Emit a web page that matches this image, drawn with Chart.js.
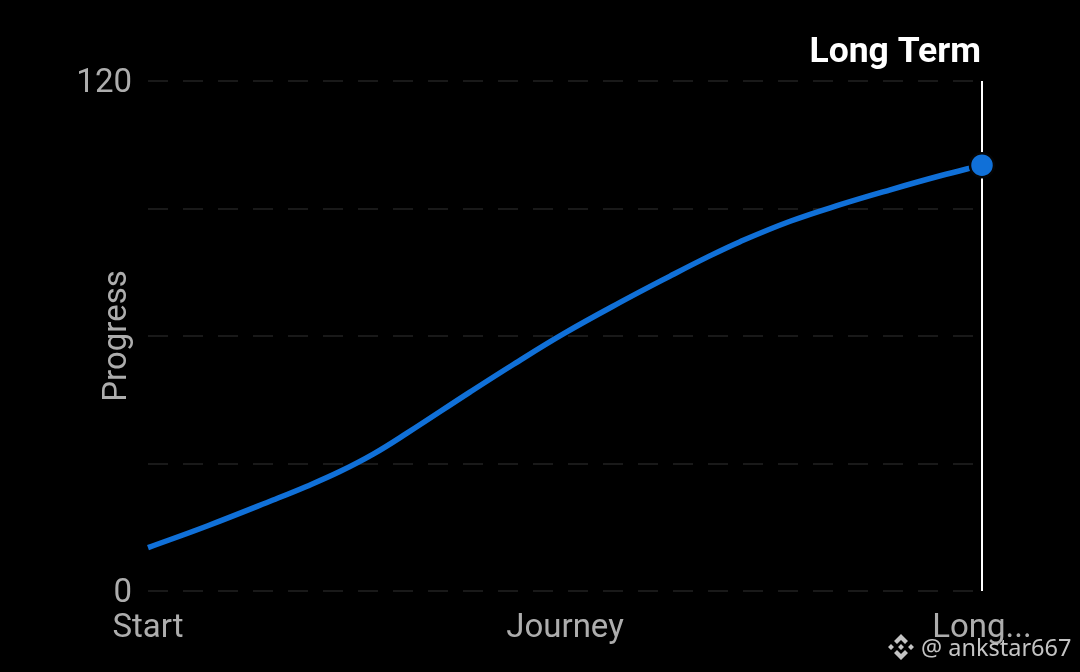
<!DOCTYPE html>
<html>
<head>
<meta charset="utf-8">
<title>Progress</title>
<script src="https://cdn.jsdelivr.net/npm/chart.js@4"></script>
<style>
html, body { margin: 0; background: #000; }
#wrap { position: relative; width: 1080px; height: 672px; overflow: hidden; }
#mark { position: absolute; left: 887px; top: 632px; height: 30px; display: flex; align-items: center; white-space: nowrap; color: #c4c4c4; font: 23.5px "Noto Sans", sans-serif; }
#mark svg { margin-right: 6px; }
</style>
</head>
<body>
<div id="wrap">
  <canvas id="myChart" width="1080" height="672"></canvas>
  <div id="mark">
    <svg width="28" height="28" viewBox="0 0 28 28" fill="#c4c4c4">
      <path d="M14 1l7 7-3 3-4-4-4 4-3-3zM14 27l-7-7 3-3 4 4 4-4 3 3zM1 14l3-3 3 3-3 3zM21 14l3-3 3 3-3 3zM14 11l3 3-3 3-3-3z"/>
    </svg>@ ankstar667
  </div>
</div>
<script>
const xValues = [0, 7.1, 15, 19, 23, 27, 31.1, 38.6, 43.8, 49.8, 56.6, 62.6, 67, 71, 77, 83, 89, 95, 100];
const progress = [10.2, 15.3, 21.4, 24.6, 28.1, 32.2, 37.2, 46.8, 53.3, 60.5, 67.9, 74.1, 78.5, 82.2, 87, 90.9, 94.4, 97.7, 100.2];
const xTicks = [0, 50, 100];
const xTickLabels = ['Start', 'Journey', 'Long...'];
const yTickLabels = { 0: '0', 120: '120' };
const markerLabel = 'Long Term';

const ctx = document.querySelector('#myChart');
const grey = '#adadad';
const font = '"Roboto", sans-serif';

const topLabel = {
  id: 'topLabel',
  afterDraw(chart) {
    const c = chart.ctx;
    c.save();
    c.fillStyle = '#fff';
    c.font = 'bold 35.5px ' + font;
    c.textAlign = 'right';
    c.textBaseline = 'alphabetic';
    c.fillText(markerLabel, chart.scales.x.getPixelForValue(100) - 1, 62);
    c.restore();
  }
};

new Chart(ctx, {
  type: 'line',
  data: {
    datasets: [
      {
        data: xValues.map((x, i) => ({ x: x, y: progress[i] })),
        borderColor: '#1070d8',
        borderWidth: 5.5,
        tension: 0.4,
        pointRadius: xValues.map((x, i) => i === xValues.length - 1 ? 12 : 0),
        pointBackgroundColor: '#1070d8',
        pointBorderColor: '#050505',
        pointBorderWidth: 2.5,
        clip: false,
        order: 1
      },
      {
        data: [{ x: 100, y: 0 }, { x: 100, y: 120 }],
        borderColor: '#fff',
        borderWidth: 2,
        pointRadius: 0,
        clip: false,
        order: 2
      }
    ]
  },
  options: {
    responsive: false,
    animation: false,
    layout: { padding: { top: 81, right: 98, bottom: 0, left: 0 } },
    plugins: { legend: { display: false }, tooltip: { enabled: false } },
    scales: {
      x: {
        type: 'linear',
        min: 0,
        max: 100,
        afterBuildTicks: (axis) => { axis.ticks = xTicks.map(v => ({ value: v })); },
        afterFit: (axis) => { axis.height = 81; },
        grid: { display: false },
        border: { display: false },
        ticks: {
          color: grey,
          font: { family: font, size: 33 },
          maxRotation: 0,
          autoSkip: false,
          padding: 10,
          callback: (v) => xTickLabels[xTicks.indexOf(v)]
        }
      },
      y: {
        min: 0,
        max: 120,
        afterFit: (axis) => { axis.width = 148; },
        grid: { color: '#191919', lineWidth: 2, drawTicks: false },
        border: { display: false, dash: [20, 15] },
        title: {
          display: true,
          text: 'Progress',
          color: grey,
          font: { family: font, size: 33 },
          padding: { top: 98, bottom: 0 }
        },
        ticks: {
          stepSize: 30,
          color: grey,
          font: { family: font, size: 33, lineHeight: '5px' },
          padding: 16,
          // second line of a two line label sits a little lower, closer to the grid line
          callback: (v) => yTickLabels[v] ? ['', yTickLabels[v]] : ''
        }
      }
    }
  },
  plugins: [topLabel]
});
</script>
</body>
</html>
